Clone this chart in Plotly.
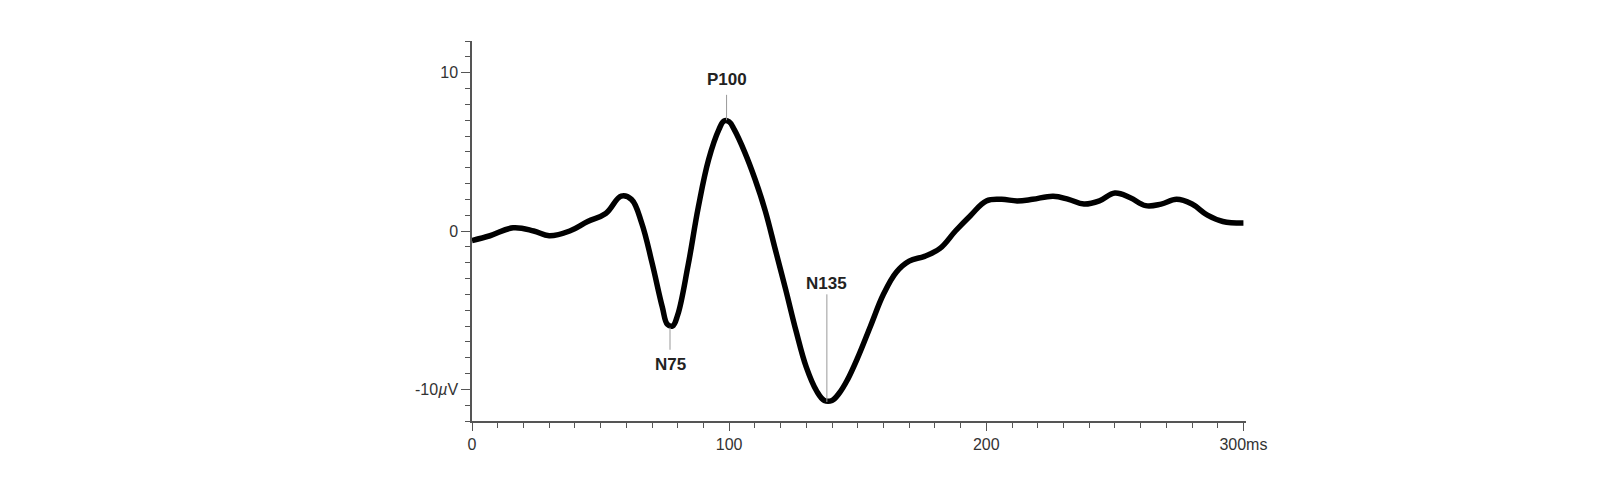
import plotly.graph_objects as go

# waveform (ms, microvolts)
t_ms = [0, 7, 16, 24, 30, 38, 45, 52, 58, 62, 66, 70, 74, 76, 78, 80, 84, 88, 92, 96, 98, 100,
        102, 106, 110, 114, 118, 122, 126, 130, 134, 137, 140, 143, 146, 150, 155, 160, 165,
        170, 176, 182, 188, 194, 200, 206, 212, 218, 226, 232, 238, 244, 250, 256, 262,
        268, 274, 280, 286, 292, 300]
amp_uv = [-0.6, -0.3, 0.2, 0.0, -0.3, 0.0, 0.6, 1.1, 2.2, 2.0, 0.5, -2.0, -4.8, -5.9, -6.0, -5.3,
          -2.2, 1.5, 4.5, 6.4, 6.95, 6.9, 6.4, 5.0, 3.3, 1.3, -1.2, -3.7, -6.3, -8.6, -10.1, -10.7,
          -10.7, -10.2, -9.4, -8.0, -6.0, -4.0, -2.6, -1.9, -1.6, -1.1, 0.0, 1.0, 1.9, 2.0, 1.9, 2.0,
          2.2, 2.0, 1.7, 1.9, 2.4, 2.1, 1.6, 1.7, 2.0, 1.7, 1.0, 0.6, 0.5]

peaks = ["N75", "P100", "N135"]
peak_t = [77, 99, 138]
peak_v = [-6.1, 7.0, -10.8]
label_v = [-8.4, 9.6, -3.3]     # where the labels sit
stem_end = [-7.5, 8.6, -4.0]

x_ticks = [0, 100, 200, 300]
x_labels = ["0", "100", "200", "300ms"]
y_ticks = [-10, 0, 10]
y_labels = ["-10<i>µ</i>V", "0", "10"]

fig = go.Figure()
fig.add_scatter(x=t_ms, y=amp_uv, mode="lines", line=dict(color="black", width=5.5, shape="spline", smoothing=1.1),
                showlegend=False, hoverinfo="skip")

for name, t, v, lv, se in zip(peaks, peak_t, peak_v, label_v, stem_end):
    fig.add_scatter(x=[t, t], y=[v, se], mode="lines", line=dict(color="#999", width=1),
                    showlegend=False, hoverinfo="skip")
    fig.add_annotation(x=t, y=lv, text="<b>" + name + "</b>", showarrow=False,
                       font=dict(size=17, color="#222", family="Liberation Sans"))

fig.update_xaxes(range=[0, 301], tickvals=x_ticks, ticktext=x_labels, showgrid=False,
                 zeroline=False, showline=True, linecolor="#555", linewidth=1.5,
                 ticks="outside", ticklen=8, tickcolor="#555",
                 minor=dict(dtick=10, tick0=0, ticks="outside", ticklen=5, tickcolor="#555"))
fig.update_yaxes(range=[-12, 12], tickvals=y_ticks, ticktext=y_labels, showgrid=False,
                 zeroline=False, showline=True, linecolor="#555", linewidth=1.5,
                 ticks="outside", ticklen=9, tickcolor="#555",
                 minor=dict(dtick=1, tick0=0, ticks="outside", ticklen=5, tickcolor="#555"))

fig.update_layout(width=1600, height=500, plot_bgcolor="white", paper_bgcolor="white",
                  margin=dict(l=464, r=362, t=33, b=87),
                  font=dict(family="Liberation Sans", size=16, color="#333"))

fig.write_html("out.html")
